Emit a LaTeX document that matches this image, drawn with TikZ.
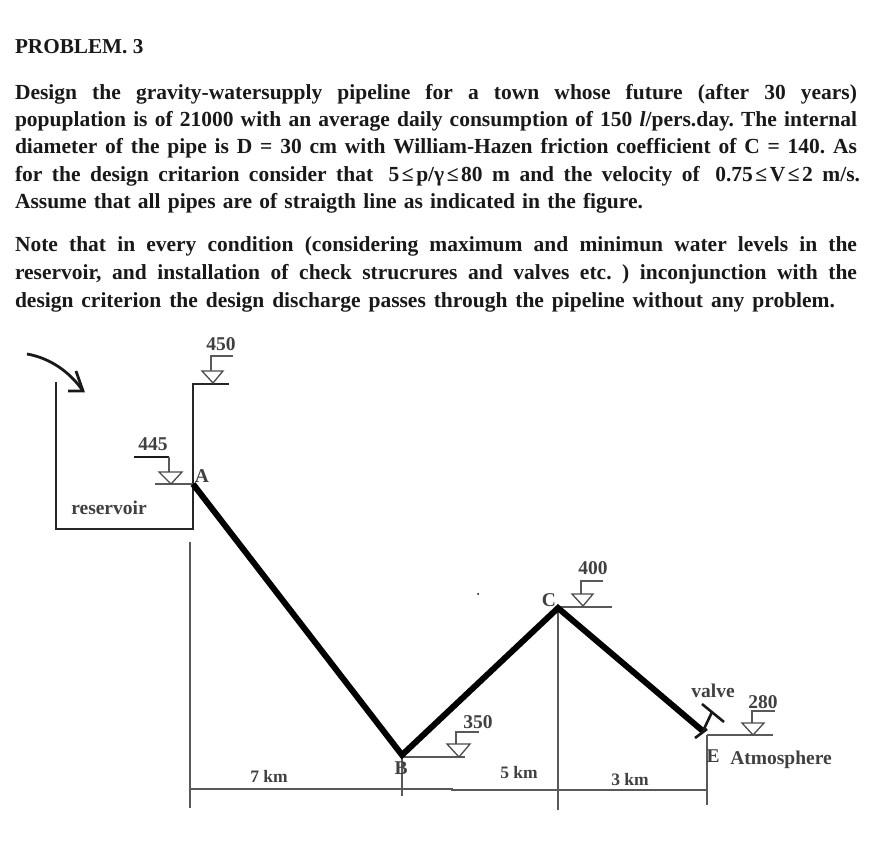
\documentclass[tikz,border=0pt]{standalone}
\usepackage{fontspec}
\setmainfont{Liberation Serif}
\frenchspacing
\tikzset{
  x=1pt,y=-1pt,
  txtline/.style={anchor=base west,inner sep=0pt,outer sep=0pt,font=\fontsize{21.5}{24}\selectfont\bfseries,text=black!90},
  lbl/.style={inner sep=0pt,outer sep=0pt,font=\fontsize{19.5}{22}\selectfont\bfseries,text=black!75},
  lblsmall/.style={lbl,font=\fontsize{17.5}{20}\selectfont\bfseries},
  wall/.style={line width=2.8pt,draw=black!85},
  pipe/.style={line width=6pt,draw=black,line join=miter},
  thin line/.style={line width=1.3pt,draw=black!65},
  sym/.style={line width=1.3pt,draw=black!70,fill=white},
}
\newcommand{\jline}[4]{\node[txtline] (#1) at (15,#2) {\makebox[#3pt][s]{#4}};}
\newcommand{\lesym}{\kern2.5pt≤\kern2.5pt}
\begin{document}
\begin{tikzpicture}
\useasboundingbox (0,0) rectangle (875,853);
\node[txtline,font=\fontsize{21.2}{24}\selectfont\bfseries] (title) at (15,54) {PROBLEM. 3};
\jline{l1}{99.5}{842}{Design the gravity-watersupply pipeline for a town whose future (after 30 years)}
\jline{l2}{126.5}{842}{popuplation is of 21000 with an average daily consumption of 150 \textit{l}/pers.day. The internal}
\jline{l3}{153.5}{842}{diameter of the pipe is D = 30 cm with William-Hazen friction coefficient of C = 140. As}
\jline{l4}{181.5}{845}{for the design critarion consider that\kern6pt\ 5\lesym p/γ\lesym 80 m and the velocity of\kern6pt\ 0.75\lesym V\lesym 2 m/s.}
\jline{l5}{208.5}{628}{Assume that all pipes are of straigth line as indicated in the figure.}
\jline{n1}{251.5}{842}{Note that in every condition (considering maximum and minimun water levels in the}
\jline{n2}{279.5}{842}{reservoir, and installation of check strucrures and valves etc. ) inconjunction with the}
\jline{n3}{307.5}{820}{design criterion the design discharge passes through the pipeline without any problem.}
% points
\coordinate (A) at (193,484);
\coordinate (B) at (402,755);
\coordinate (C) at (558,608);
\coordinate (E) at (704,732);
\coordinate (ResTL) at (56,382);
\coordinate (ResBL) at (56,529);
\coordinate (ResBR) at (193,529);
\coordinate (ResTR) at (193,384);
\coordinate (ResTE) at (229,384);
\coordinate (ArrS) at (27,354);
\coordinate (ArrE) at (83,391);
% reservoir
\draw[wall] (ResTL) -- (ResBL) -- (ResBR) -- (ResTR) -- (ResTE);
% inflow arrow
\draw[line width=2.8pt,black!90] (ArrS) .. controls (50,358) and (70,372) .. (ArrE);
\coordinate (AH1) at (68,391);
\coordinate (AH2) at (76,371);
\draw[line width=2.8pt,black!90] (AH1) -- (ArrE) -- (AH2);
% dimension lines
\coordinate (DA) at (190,542);
\coordinate (DAb) at (190,808);
\coordinate (DBb) at (402,796);
\coordinate (DCb) at (558,810);
\coordinate (DEb) at (707,805);
\coordinate (Dl) at (190,789);
\coordinate (Dm) at (452,789);
\coordinate (Dr) at (707,790);
\coordinate (Et) at (707,735);
\draw[thin line] (DA) -- (DAb);
\draw[thin line] (B) -- (DBb);
\draw[thin line] (C) -- (DCb);
\draw[thin line] (Et) -- (DEb);
\draw[thin line] (Dl) -- (Dm) -- (452,790) -- (Dr);
% level lines
\draw[thin line] (155,484) -- (A);
\draw[thin line] (403,757) -- (465,757);
\draw[thin line] (558,607) -- (612,607);
\draw[thin line] (Et) -- (773,735);
% pipe
\draw[pipe] (A) -- (B) -- (C) -- (E);
% valve
\draw[line width=2.6pt,black!90] (695,738) -- (707,729);
\draw[line width=2.6pt,black!90] (703,731) -- (712,712);
\draw[line width=2.6pt,black!90] (702,704) -- (724,722);
% level symbols
\draw[sym] (202,371) -- (223,371) -- (213,383) -- cycle;
\draw[thin line] (233,356) -- (211,356) -- (211,371);
\draw[line width=2.8pt,black!90] (134,457) -- (169,457);
\draw[thin line,line width=1.6pt] (169,457) -- (169,472);
\draw[sym] (159,472) -- (182,472) -- (171,484) -- cycle;
\draw[thin line] (479,732) -- (456,732) -- (456,744);
\draw[sym] (447,744) -- (470,744) -- (459,757) -- cycle;
\draw[thin line] (603,581) -- (581,581) -- (581,594);
\draw[sym] (572,594) -- (593,594) -- (583,606) -- cycle;
\draw[thin line] (775,711) -- (752,711) -- (752,723);
\draw[sym] (742,723) -- (764,723) -- (753,735) -- cycle;
% labels
\node[lbl] (t450) at (221,344) {450};
\node[lbl] (t445) at (153,444) {445};
\node[lbl] (tA) at (202,476) {A};
\node[lbl] (tres) at (109,508) {reservoir};
\node[lbl] (t400) at (593,568) {400};
\node[lbl] (tC) at (549,600) {C};
\node[lbl] (t350) at (478,722) {350};
\node[lbl] (tB) at (401,768) {B};
\node[lblsmall] (t7) at (269,776) {7 km};
\node[lblsmall] (t5) at (519,773) {5 km};
\node[lblsmall] (t3) at (630,780) {3 km};
\node[lbl] (tv) at (713,691) {valve};
\node[lbl] (t280) at (763,702) {280};
\node[lbl] (tE) at (713,756) {E};
\node[lbl] (tatm) at (781,760) {Atmosphere};
\fill[black] (478,594) circle (1pt);
\end{tikzpicture}
\end{document}
